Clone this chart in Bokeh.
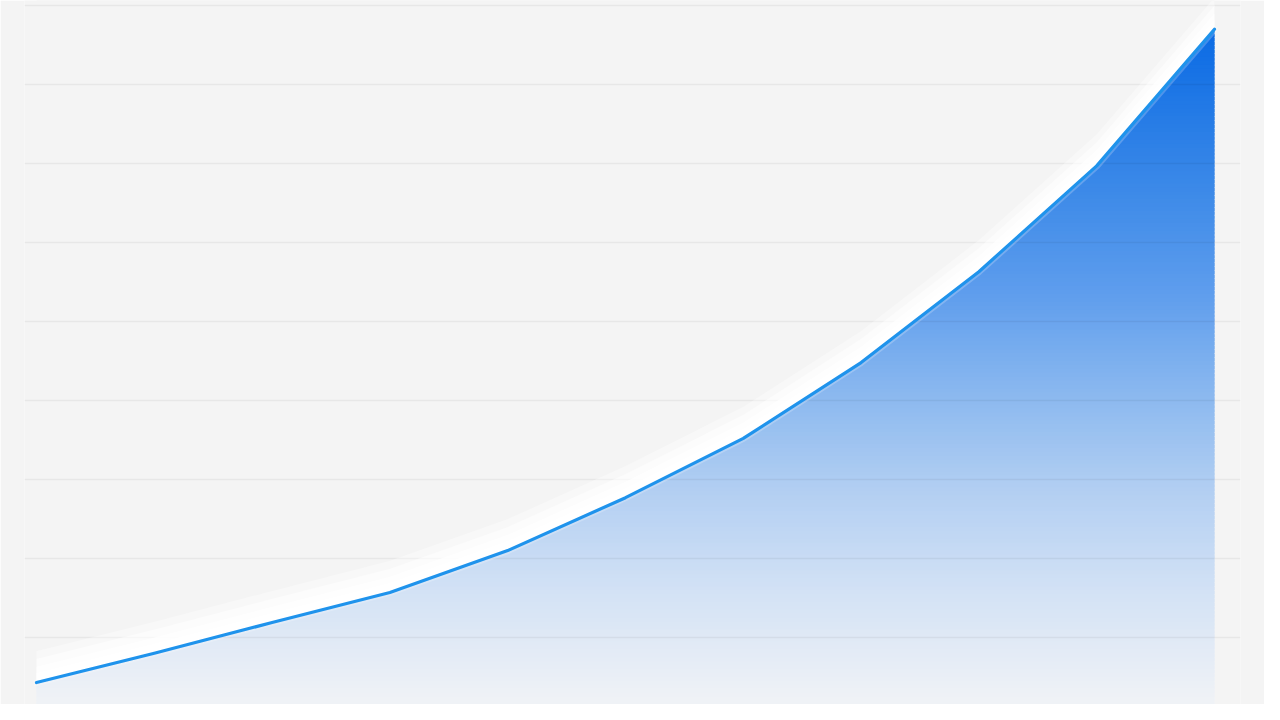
import numpy as np
from bokeh.plotting import figure
from bokeh.models import Range1d, ColumnDataSource, SingleIntervalTicker
from bokeh.embed import file_html
from bokeh.resources import INLINE

# ---- data ----
periods = list(range(11))
values = [4.3, 8.0, 11.9, 15.7, 21.0, 27.7, 35.2, 44.8, 56.3, 69.7, 87.0]
grid_step = 10

# ---- style ----
BG = "#f4f4f4"
LINE = "#1f93ec"
stop_vals = [0, 3.0, 15.7, 28.4, 41.0, 53.7, 66.3, 86.6, 100]
stop_cols = ["#f1f3f6", "#eef1f6", "#d3e2f5", "#b3cff2", "#8ab8ef", "#5e9ded",
             "#3d8ae8", "#0b6be4", "#0b6be4"]


def hex2rgb(h):
    h = h.lstrip("#")
    return [int(h[i:i + 2], 16) for i in (0, 2, 4)]


def grad_color(v):
    rgbs = np.array([hex2rgb(c) for c in stop_cols], dtype=float)
    r = np.interp(v, stop_vals, rgbs[:, 0])
    g = np.interp(v, stop_vals, rgbs[:, 1])
    b = np.interp(v, stop_vals, rgbs[:, 2])
    return "#%02x%02x%02x" % (int(round(r)), int(round(g)), int(round(b)))


p = figure(width=1264, height=704, output_backend="svg", toolbar_location=None,
           x_range=Range1d(-0.102, 10.221), y_range=Range1d(1.52, 90.63),
           min_border_left=24, min_border_right=24, min_border_top=0,
           min_border_bottom=0)
p.background_fill_color = BG
p.border_fill_color = BG
p.outline_line_color = None
p.xaxis.visible = False
p.yaxis.visible = False
p.xgrid.visible = False
p.ygrid.ticker = SingleIntervalTicker(interval=grid_step)
p.ygrid.grid_line_color = "black"
p.ygrid.grid_line_alpha = 0.05
p.ygrid.grid_line_width = 1.5

# gradient fill (horizontal bands under the curve), masked above the line
vmax = values[-1]
step = 0.5
edges = np.arange(0, vmax + step, step)
edges = edges[edges < vmax]
lefts = np.interp(edges, values, periods)  # where the curve reaches each band
tops = np.minimum(edges + step * 1.8, vmax)
src = ColumnDataSource(dict(
    left=lefts, right=[periods[-1]] * len(edges),
    bottom=edges, top=tops,
    color=[grad_color(e + step / 2) for e in edges]))
p.quad(left="left", right="right", bottom="bottom", top="top", source=src,
       fill_color="color", line_color=None, level="image")
p.varea(x=periods, y1=values, y2=[200] * len(values), fill_color=BG, level="image")

# white glow above the line
vals = np.array(values)
for d, a in [(4.0, 0.35), (3.0, 0.5), (2.0, 0.7), (1.2, 0.9)]:
    p.varea(x=periods, y1=vals, y2=vals + d, fill_color="white", fill_alpha=a)
# soft glow just below the line
p.line(periods, values, line_width=7, line_color="white", line_alpha=0.22,
       line_join="round", line_cap="round")

p.line(periods, values, line_width=3.2, line_color=LINE,
       line_join="round", line_cap="round")

open("out.html", "w").write(file_html(p, INLINE))
